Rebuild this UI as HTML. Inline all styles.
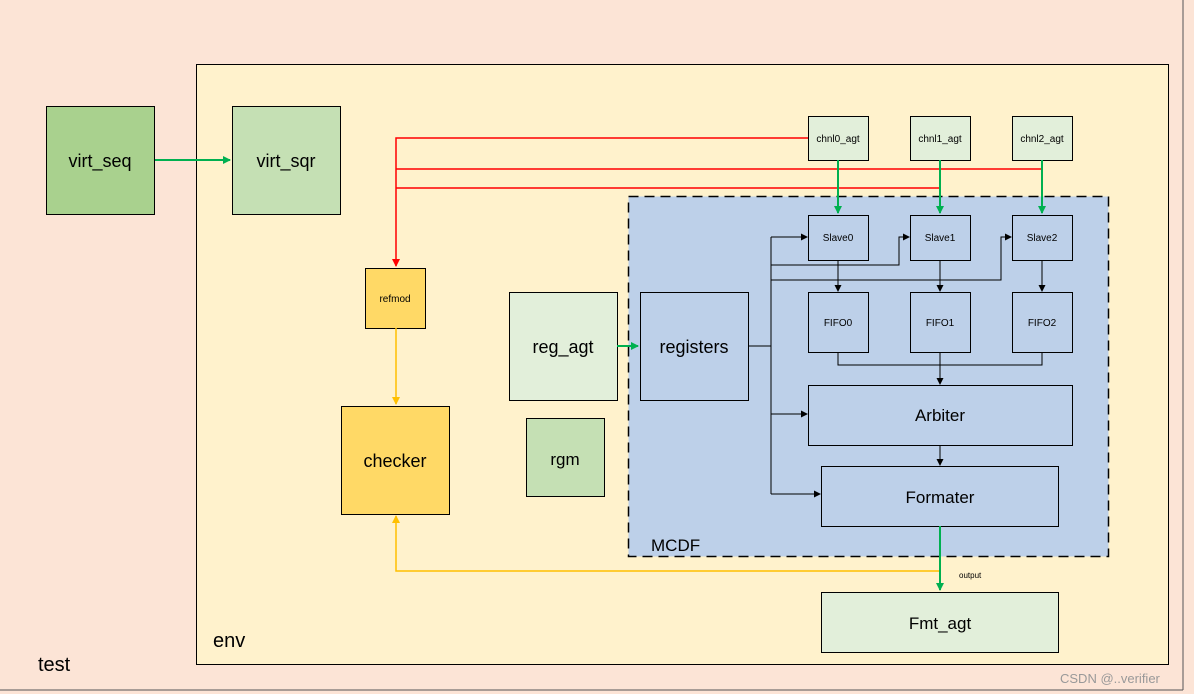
<!DOCTYPE html>
<html><head><style>body{margin:0;background:#fce4d6;}svg{display:block;font-family:"Liberation Sans",sans-serif;}</style></head><body>
<svg width="1194" height="694" viewBox="0 0 1194 694">
<defs>
<marker id="ag" markerWidth="8" markerHeight="8" refX="7" refY="4" orient="auto" markerUnits="userSpaceOnUse"><path d="M0,0L8,4L0,8z" fill="#00b050"/></marker>
<marker id="ar" markerWidth="8" markerHeight="8" refX="7" refY="4" orient="auto" markerUnits="userSpaceOnUse"><path d="M0,0L8,4L0,8z" fill="#ff0000"/></marker>
<marker id="ao" markerWidth="8" markerHeight="8" refX="7" refY="4" orient="auto" markerUnits="userSpaceOnUse"><path d="M0,0L8,4L0,8z" fill="#ffc000"/></marker>
<marker id="ak" markerWidth="7" markerHeight="7" refX="6" refY="3.5" orient="auto" markerUnits="userSpaceOnUse"><path d="M0,0L7,3.5L0,7z" fill="#000"/></marker>
</defs>
<rect x="0" y="0" width="1194" height="694" fill="#fce4d6"/>
<line x1="1183" y1="0" x2="1183" y2="690" stroke="#555" stroke-width="1"/>
<line x1="0" y1="690" x2="1183" y2="690" stroke="#555" stroke-width="1"/>
<rect x="196.5" y="64.5" width="972" height="600" fill="#fff2cc" stroke="#000"/>
<rect x="628.5" y="196.5" width="480" height="360" fill="#bdd0e9" stroke="#000" stroke-width="1.5" stroke-dasharray="10,6"/>
<g stroke="#000" stroke-width="1">
<rect x="46.5" y="106.5" width="108" height="108" fill="#a9d18e"/>
<rect x="232.5" y="106.5" width="108" height="108" fill="#c5e0b4"/>
<rect x="808.5" y="116.5" width="60" height="44" fill="#e2efda"/>
<rect x="910.5" y="116.5" width="60" height="44" fill="#e2efda"/>
<rect x="1012.5" y="116.5" width="60" height="44" fill="#e2efda"/>
<rect x="808.5" y="215.5" width="60" height="45" fill="#bdd0e9"/>
<rect x="910.5" y="215.5" width="60" height="45" fill="#bdd0e9"/>
<rect x="1012.5" y="215.5" width="60" height="45" fill="#bdd0e9"/>
<rect x="808.5" y="292.5" width="60" height="60" fill="#bdd0e9"/>
<rect x="910.5" y="292.5" width="60" height="60" fill="#bdd0e9"/>
<rect x="1012.5" y="292.5" width="60" height="60" fill="#bdd0e9"/>
<rect x="365.5" y="268.5" width="60" height="60" fill="#ffd966"/>
<rect x="509.5" y="292.5" width="108" height="108" fill="#e2efda"/>
<rect x="640.5" y="292.5" width="108" height="108" fill="#bdd0e9"/>
<rect x="808.5" y="385.5" width="264" height="60" fill="#bdd0e9"/>
<rect x="821.5" y="466.5" width="237" height="60" fill="#bdd0e9"/>
<rect x="341.5" y="406.5" width="108" height="108" fill="#ffd966"/>
<rect x="526.5" y="418.5" width="78" height="78" fill="#c5e0b4"/>
<rect x="821.5" y="592.5" width="237" height="60" fill="#e2efda"/>
</g>
<g fill="none" stroke-width="1.5">
<line x1="155" y1="160" x2="230" y2="160" stroke="#00b050" stroke-width="2" marker-end="url(#ag)"/>
<polyline points="808,138 396,138 396,266" stroke="#ff0000" marker-end="url(#ar)"/>
<line x1="396" y1="169" x2="1042" y2="169" stroke="#ff0000"/>
<line x1="396" y1="188" x2="940" y2="188" stroke="#ff0000"/>
<line x1="838" y1="160" x2="838" y2="213" stroke="#00b050" stroke-width="2" marker-end="url(#ag)"/>
<line x1="940" y1="160" x2="940" y2="213" stroke="#00b050" stroke-width="2" marker-end="url(#ag)"/>
<line x1="1042" y1="160" x2="1042" y2="213" stroke="#00b050" stroke-width="2" marker-end="url(#ag)"/>
<line x1="617" y1="346" x2="638" y2="346" stroke="#00b050" stroke-width="2" marker-end="url(#ag)"/>
<line x1="396" y1="328" x2="396" y2="404" stroke="#ffc000" marker-end="url(#ao)"/>
<polyline points="940,571 396,571 396,516" stroke="#ffc000" marker-end="url(#ao)"/>
<line x1="940" y1="526" x2="940" y2="590" stroke="#00b050" stroke-width="2" marker-end="url(#ag)"/>
</g>
<g fill="none" stroke="#000" stroke-width="1">
<line x1="748" y1="346" x2="771" y2="346"/>
<line x1="771" y1="237" x2="771" y2="494"/>
<line x1="771" y1="237" x2="807" y2="237" marker-end="url(#ak)"/>
<polyline points="771,265 899,265 899,237 909,237" marker-end="url(#ak)"/>
<polyline points="771,280 1001,280 1001,237 1011,237" marker-end="url(#ak)"/>
<line x1="838" y1="260" x2="838" y2="291" marker-end="url(#ak)"/>
<line x1="940" y1="260" x2="940" y2="291" marker-end="url(#ak)"/>
<line x1="1042" y1="260" x2="1042" y2="291" marker-end="url(#ak)"/>
<polyline points="838,352 838,365 1042,365 1042,352"/>
<line x1="940" y1="352" x2="940" y2="384" marker-end="url(#ak)"/>
<line x1="771" y1="414" x2="807" y2="414" marker-end="url(#ak)"/>
<line x1="940" y1="445" x2="940" y2="465" marker-end="url(#ak)"/>
<line x1="771" y1="494" x2="820" y2="494" marker-end="url(#ak)"/>
</g>
<g text-anchor="middle" fill="#000">
<text x="100" y="167" font-size="18">virt_seq</text>
<text x="286" y="167" font-size="18">virt_sqr</text>
<text x="838" y="142" font-size="10">chnl0_agt</text>
<text x="940" y="142" font-size="10">chnl1_agt</text>
<text x="1042" y="142" font-size="10">chnl2_agt</text>
<text x="838" y="241" font-size="10">Slave0</text>
<text x="940" y="241" font-size="10">Slave1</text>
<text x="1042" y="241" font-size="10">Slave2</text>
<text x="838" y="326" font-size="10">FIFO0</text>
<text x="940" y="326" font-size="10">FIFO1</text>
<text x="1042" y="326" font-size="10">FIFO2</text>
<text x="395" y="302" font-size="10">refmod</text>
<text x="563" y="353" font-size="18">reg_agt</text>
<text x="694" y="353" font-size="18">registers</text>
<text x="940" y="421" font-size="17">Arbiter</text>
<text x="940" y="503" font-size="17">Formater</text>
<text x="395" y="467" font-size="18">checker</text>
<text x="565" y="465" font-size="17">rgm</text>
<text x="940" y="629" font-size="17">Fmt_agt</text>
</g>
<text x="651" y="551" font-size="17">MCDF</text>
<text x="959" y="578" font-size="8">output</text>
<text x="213" y="647" font-size="20">env</text>
<text x="38" y="671" font-size="20">test</text>
<text x="1060" y="683" font-size="13" fill="#999">CSDN @..verifier</text>
</svg>
</body></html>
